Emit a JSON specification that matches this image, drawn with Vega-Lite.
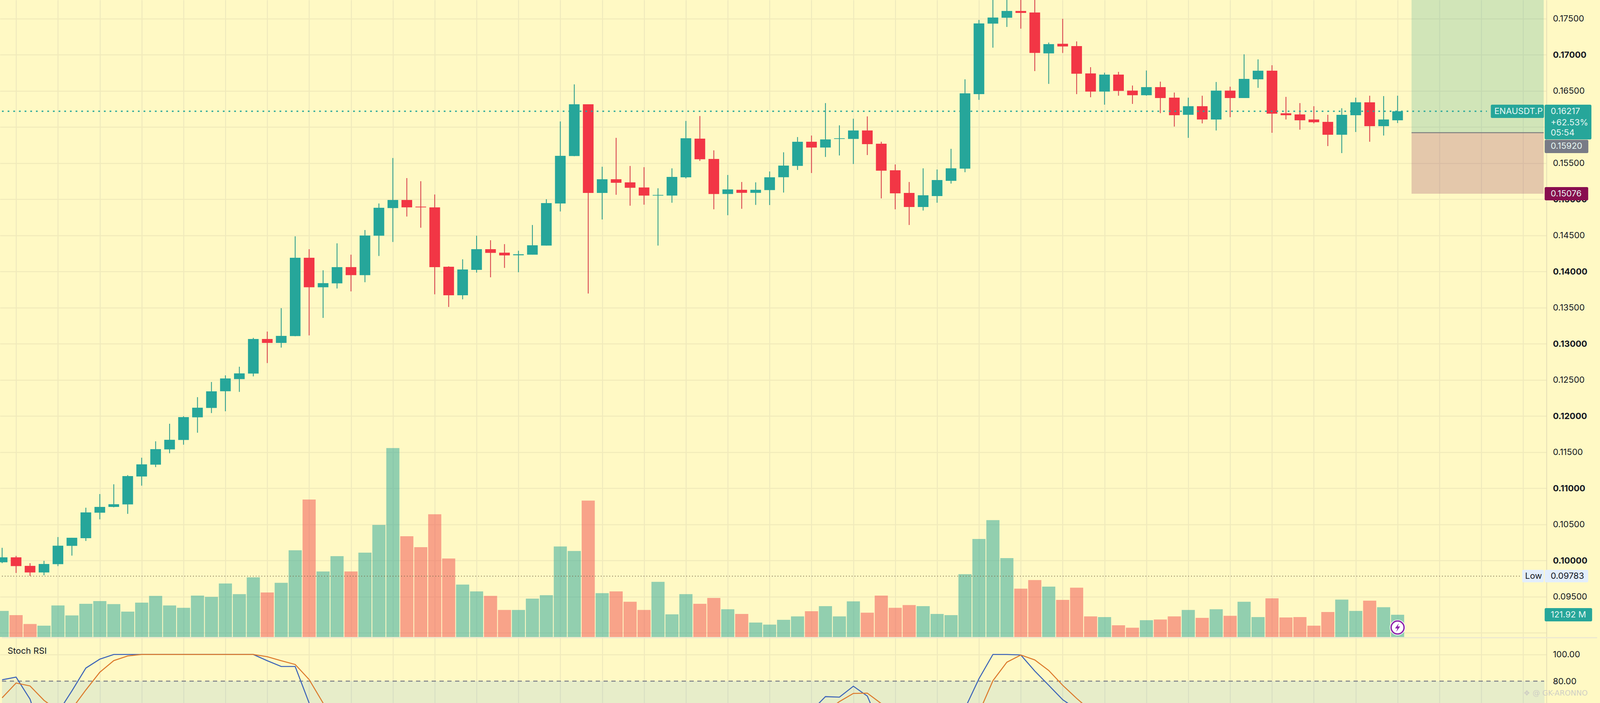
{
  "$schema": "https://vega.github.io/schema/vega-lite/v6.json",
  "width": 4096,
  "height": 1800,
  "padding": 0,
  "autosize": {"type": "fit", "contains": "padding"},
  "background": "#fff9c4",
  "config": {"view": {"stroke": null}, "text": {"font": "Inter"}},
  "datasets": {
    "candles": [
      {"i":0,"open":0.09975,"high":0.10175,"low":0.09962,"close":0.10043,"volume":143,"k":81,"d":67.5},
      {"i":1,"open":0.10043,"high":0.10063,"low":0.09827,"close":0.09922,"volume":120,"k":83,"d":78.6},
      {"i":2,"open":0.09925,"high":0.09962,"low":0.09785,"close":0.09834,"volume":71,"k":66.5,"d":76.4},
      {"i":3,"open":0.09834,"high":0.09995,"low":0.09795,"close":0.09951,"volume":62,"k":35,"d":65.6},
      {"i":4,"open":0.09949,"high":0.10324,"low":0.09922,"close":0.10204,"volume":173,"k":56.4,"d":58},
      {"i":5,"open":0.10202,"high":0.10314,"low":0.10067,"close":0.10314,"volume":118,"k":72.7,"d":59.3},
      {"i":6,"open":0.10308,"high":0.1073,"low":0.1027,"close":0.10665,"volume":182,"k":89.8,"d":73.4},
      {"i":7,"open":0.10661,"high":0.10919,"low":0.10569,"close":0.10741,"volume":197,"k":96.5,"d":86.7},
      {"i":8,"open":0.10741,"high":0.11054,"low":0.10735,"close":0.10778,"volume":180,"k":100,"d":95.4},
      {"i":9,"open":0.10776,"high":0.11181,"low":0.10645,"close":0.11168,"volume":139,"k":100,"d":98.9},
      {"i":10,"open":0.11162,"high":0.11422,"low":0.11035,"close":0.1133,"volume":188,"k":100,"d":100},
      {"i":11,"open":0.11326,"high":0.11649,"low":0.11292,"close":0.11541,"volume":225,"k":100,"d":100},
      {"i":12,"open":0.11537,"high":0.11892,"low":0.11484,"close":0.1167,"volume":173,"k":100,"d":100},
      {"i":13,"open":0.11668,"high":0.11997,"low":0.11602,"close":0.11984,"volume":160,"k":100,"d":100},
      {"i":14,"open":0.11981,"high":0.1226,"low":0.11768,"close":0.12114,"volume":227,"k":100,"d":100},
      {"i":15,"open":0.12111,"high":0.1247,"low":0.1204,"close":0.12341,"volume":220,"k":100,"d":100},
      {"i":16,"open":0.12342,"high":0.12562,"low":0.12065,"close":0.12519,"volume":293,"k":100,"d":100},
      {"i":17,"open":0.1251,"high":0.12681,"low":0.12333,"close":0.12589,"volume":235,"k":100,"d":100},
      {"i":18,"open":0.12586,"high":0.13081,"low":0.12548,"close":0.13065,"volume":327,"k":100,"d":100},
      {"i":19,"open":0.13065,"high":0.13168,"low":0.12732,"close":0.13011,"volume":244,"k":95.3,"d":98.3},
      {"i":20,"open":0.13011,"high":0.13492,"low":0.12946,"close":0.13108,"volume":297,"k":91,"d":95.3},
      {"i":21,"open":0.13105,"high":0.14486,"low":0.13103,"close":0.14189,"volume":475,"k":91,"d":92.5},
      {"i":22,"open":0.14189,"high":0.14308,"low":0.13115,"close":0.13781,"volume":753,"k":63.6,"d":81.2},
      {"i":23,"open":0.13781,"high":0.14016,"low":0.13357,"close":0.13838,"volume":359,"k":30,"d":63.6},
      {"i":24,"open":0.13835,"high":0.14389,"low":0.13764,"close":0.1406,"volume":443,"k":28,"d":45},
      {"i":25,"open":0.1406,"high":0.14232,"low":0.13724,"close":0.13949,"volume":359,"k":22,"d":35},
      {"i":26,"open":0.13949,"high":0.14573,"low":0.13851,"close":0.14497,"volume":462,"k":30,"d":30},
      {"i":27,"open":0.14495,"high":0.14941,"low":0.14214,"close":0.14881,"volume":614,"k":38,"d":32},
      {"i":28,"open":0.14877,"high":0.1557,"low":0.14408,"close":0.14989,"volume":1035,"k":40,"d":36},
      {"i":29,"open":0.14989,"high":0.15292,"low":0.1476,"close":0.14887,"volume":552,"k":33,"d":38},
      {"i":30,"open":0.14897,"high":0.15249,"low":0.14605,"close":0.14887,"volume":492,"k":25,"d":33},
      {"i":31,"open":0.14887,"high":0.15065,"low":0.13684,"close":0.1406,"volume":672,"k":12,"d":24},
      {"i":32,"open":0.14065,"high":0.14071,"low":0.13508,"close":0.1367,"volume":430,"k":8,"d":15},
      {"i":33,"open":0.1367,"high":0.14168,"low":0.13614,"close":0.14027,"volume":287,"k":14,"d":11},
      {"i":34,"open":0.14022,"high":0.14495,"low":0.13984,"close":0.14308,"volume":250,"k":25,"d":16},
      {"i":35,"open":0.14308,"high":0.14432,"low":0.13919,"close":0.14257,"volume":225,"k":35,"d":25},
      {"i":36,"open":0.1426,"high":0.14378,"low":0.14049,"close":0.14222,"volume":148,"k":40,"d":33},
      {"i":37,"open":0.14224,"high":0.14287,"low":0.13989,"close":0.14238,"volume":148,"k":42,"d":39},
      {"i":38,"open":0.14232,"high":0.14643,"low":0.14232,"close":0.14362,"volume":210,"k":50,"d":44},
      {"i":39,"open":0.14358,"high":0.15,"low":0.14358,"close":0.14946,"volume":229,"k":55,"d":49},
      {"i":40,"open":0.14941,"high":0.16076,"low":0.1483,"close":0.156,"volume":496,"k":58,"d":54},
      {"i":41,"open":0.15597,"high":0.16589,"low":0.15595,"close":0.16314,"volume":471,"k":60,"d":57},
      {"i":42,"open":0.16314,"high":0.16314,"low":0.13694,"close":0.15087,"volume":747,"k":42,"d":53},
      {"i":43,"open":0.15087,"high":0.15449,"low":0.14719,"close":0.15276,"volume":240,"k":35,"d":45},
      {"i":44,"open":0.15276,"high":0.15849,"low":0.15061,"close":0.15227,"volume":250,"k":28,"d":35},
      {"i":45,"open":0.15233,"high":0.1546,"low":0.1491,"close":0.15158,"volume":193,"k":20,"d":28},
      {"i":46,"open":0.15162,"high":0.15443,"low":0.14924,"close":0.1505,"volume":148,"k":12,"d":20},
      {"i":47,"open":0.1505,"high":0.15151,"low":0.14358,"close":0.15059,"volume":302,"k":10,"d":14},
      {"i":48,"open":0.1505,"high":0.15427,"low":0.14951,"close":0.15308,"volume":124,"k":15,"d":12},
      {"i":49,"open":0.15303,"high":0.16083,"low":0.15287,"close":0.15843,"volume":235,"k":32,"d":19},
      {"i":50,"open":0.15838,"high":0.16151,"low":0.1553,"close":0.15553,"volume":182,"k":35,"d":27},
      {"i":51,"open":0.15557,"high":0.15676,"low":0.1486,"close":0.15072,"volume":214,"k":28,"d":32},
      {"i":52,"open":0.15072,"high":0.15335,"low":0.14778,"close":0.15135,"volume":152,"k":18,"d":27},
      {"i":53,"open":0.1513,"high":0.15238,"low":0.14867,"close":0.15088,"volume":126,"k":14,"d":20},
      {"i":54,"open":0.15088,"high":0.15233,"low":0.14921,"close":0.1513,"volume":79,"k":16,"d":16},
      {"i":55,"open":0.15126,"high":0.15384,"low":0.14919,"close":0.15303,"volume":68,"k":25,"d":18},
      {"i":56,"open":0.15304,"high":0.15649,"low":0.15092,"close":0.15465,"volume":94,"k":38,"d":26},
      {"i":57,"open":0.15461,"high":0.1586,"low":0.15405,"close":0.15795,"volume":113,"k":48,"d":37},
      {"i":58,"open":0.15795,"high":0.15881,"low":0.15362,"close":0.15715,"volume":141,"k":57.8,"d":48},
      {"i":59,"open":0.15715,"high":0.1633,"low":0.15585,"close":0.15827,"volume":169,"k":68.4,"d":57},
      {"i":60,"open":0.15834,"high":0.16022,"low":0.15605,"close":0.15843,"volume":113,"k":68,"d":64.7},
      {"i":61,"open":0.15834,"high":0.16114,"low":0.15487,"close":0.15951,"volume":195,"k":76.2,"d":70.8},
      {"i":62,"open":0.15951,"high":0.16146,"low":0.15611,"close":0.15762,"volume":133,"k":68.8,"d":71},
      {"i":63,"open":0.15768,"high":0.15795,"low":0.15011,"close":0.15395,"volume":227,"k":44.5,"d":63.2},
      {"i":64,"open":0.154,"high":0.15481,"low":0.1486,"close":0.15081,"volume":160,"k":25,"d":48},
      {"i":65,"open":0.15087,"high":0.15238,"low":0.14643,"close":0.14892,"volume":175,"k":10,"d":27},
      {"i":66,"open":0.14892,"high":0.15427,"low":0.14843,"close":0.15054,"volume":169,"k":8,"d":15},
      {"i":67,"open":0.15043,"high":0.15411,"low":0.14951,"close":0.15265,"volume":126,"k":18,"d":12},
      {"i":68,"open":0.15254,"high":0.15697,"low":0.15216,"close":0.15427,"volume":120,"k":35,"d":20},
      {"i":69,"open":0.15423,"high":0.16659,"low":0.15373,"close":0.16465,"volume":344,"k":59.6,"d":38},
      {"i":70,"open":0.16454,"high":0.17481,"low":0.16375,"close":0.17432,"volume":537,"k":81.8,"d":56.4},
      {"i":71,"open":0.1743,"high":0.178,"low":0.17097,"close":0.17514,"volume":640,"k":100,"d":80.3},
      {"i":72,"open":0.17511,"high":0.1785,"low":0.17384,"close":0.17605,"volume":432,"k":100,"d":94.2},
      {"i":73,"open":0.17605,"high":0.179,"low":0.1736,"close":0.17578,"volume":265,"k":99.6,"d":99.6},
      {"i":74,"open":0.17584,"high":0.179,"low":0.16773,"close":0.17024,"volume":312,"k":87.6,"d":95.9},
      {"i":75,"open":0.17018,"high":0.17168,"low":0.16596,"close":0.17146,"volume":276,"k":76.9,"d":88},
      {"i":76,"open":0.17151,"high":0.17497,"low":0.17024,"close":0.17114,"volume":203,"k":66.1,"d":76.9},
      {"i":77,"open":0.17119,"high":0.17184,"low":0.16454,"close":0.16737,"volume":270,"k":59,"d":67.1},
      {"i":78,"open":0.16741,"high":0.16827,"low":0.16411,"close":0.16489,"volume":113,"k":48,"d":58},
      {"i":79,"open":0.16489,"high":0.16751,"low":0.16308,"close":0.16724,"volume":109,"k":42,"d":50},
      {"i":80,"open":0.16724,"high":0.16762,"low":0.16432,"close":0.16499,"volume":64,"k":36,"d":42},
      {"i":81,"open":0.16503,"high":0.16573,"low":0.16319,"close":0.16439,"volume":51,"k":28,"d":35},
      {"i":82,"open":0.16439,"high":0.16781,"low":0.16432,"close":0.16551,"volume":92,"k":25,"d":30},
      {"i":83,"open":0.16551,"high":0.16627,"low":0.16191,"close":0.164,"volume":96,"k":18,"d":24},
      {"i":84,"open":0.16405,"high":0.16476,"low":0.16005,"close":0.16162,"volume":113,"k":12,"d":18},
      {"i":85,"open":0.16168,"high":0.16405,"low":0.15849,"close":0.16287,"volume":148,"k":14,"d":15},
      {"i":86,"open":0.16287,"high":0.16432,"low":0.16049,"close":0.16103,"volume":105,"k":12,"d":13},
      {"i":87,"open":0.16103,"high":0.16622,"low":0.15951,"close":0.16503,"volume":152,"k":25,"d":17},
      {"i":88,"open":0.16503,"high":0.16557,"low":0.16135,"close":0.164,"volume":116,"k":32,"d":23},
      {"i":89,"open":0.164,"high":0.17005,"low":0.164,"close":0.16665,"volume":193,"k":48,"d":35},
      {"i":90,"open":0.16659,"high":0.16935,"low":0.16541,"close":0.16778,"volume":109,"k":55,"d":45},
      {"i":91,"open":0.16778,"high":0.16854,"low":0.15919,"close":0.16184,"volume":212,"k":42,"d":48},
      {"i":92,"open":0.16189,"high":0.16416,"low":0.16103,"close":0.16162,"volume":107,"k":30,"d":42},
      {"i":93,"open":0.16173,"high":0.1633,"low":0.15962,"close":0.16092,"volume":109,"k":18,"d":30},
      {"i":94,"open":0.16103,"high":0.16287,"low":0.16049,"close":0.16065,"volume":62,"k":10,"d":19},
      {"i":95,"open":0.1607,"high":0.16168,"low":0.15735,"close":0.15892,"volume":137,"k":6,"d":11},
      {"i":96,"open":0.15892,"high":0.16259,"low":0.15638,"close":0.16168,"volume":205,"k":15,"d":10},
      {"i":97,"open":0.16162,"high":0.16405,"low":0.1593,"close":0.16341,"volume":143,"k":26,"d":16},
      {"i":98,"open":0.16341,"high":0.16432,"low":0.15795,"close":0.16011,"volume":199,"k":24,"d":22},
      {"i":99,"open":0.16011,"high":0.16427,"low":0.15881,"close":0.16103,"volume":163,"k":22,"d":24},
      {"i":100,"open":0.16092,"high":0.16432,"low":0.16054,"close":0.16217,"volume":121.92,"k":28,"d":25}
    ]
  },
  "resolve": {"scale": {"y": "independent"}, "axis": {"y": "independent"}},
  "layer": [
    {
      "layer": [
        {
          "data": {"name": "candles"},
          "mark": {"type": "bar", "size": 33.6, "opacity": 0.5, "clip": true},
          "encoding": {
            "x": {
              "field": "i",
              "type": "quantitative",
              "scale": {"domain": [-0.0127, 110.53], "nice": false},
              "axis": {
                "orient": "bottom",
                "title": null,
                "labels": false,
                "ticks": false,
                "domain": false,
                "grid": true,
                "gridColor": "#ebe6bb",
                "gridWidth": 2,
                "minExtent": 0,
                "maxExtent": 0,
                "values": [1,4,7,10,13,16,19,22,25,28,31,34,37,40,43,46,49,52,55,58,61,64,67,70,73,76,79,82,85,88,91,94,97,100,103,106,109]
              }
            },
            "y": {
              "field": "volume",
              "type": "quantitative",
              "scale": {"domain": [-361.5, 3489], "nice": false, "zero": false},
              "axis": null
            },
            "color": {
              "condition": {"test": "datum.close >= datum.open", "value": "#26a69a"},
              "value": "#f14d4e"
            }
          }
        },
        {
          "data": {"values": [{"i": 100, "volume": 52}]},
          "mark": {"type": "point", "filled": true, "shape": "circle", "size": 1600, "color": "#ffffff", "opacity": 1},
          "encoding": {
            "x": {"field": "i", "type": "quantitative", "scale": {"domain": [-0.0127, 110.53], "nice": false}},
            "y": {"field": "volume", "type": "quantitative", "scale": {"domain": [-361.5, 3489], "nice": false, "zero": false}, "axis": null}
          }
        },
        {
          "data": {"values": [{"i": 100, "volume": 52}]},
          "mark": {"type": "point", "filled": false, "shape": "circle", "size": 1100, "stroke": "#8e24aa", "strokeWidth": 3.5, "opacity": 1},
          "encoding": {
            "x": {"field": "i", "type": "quantitative", "scale": {"domain": [-0.0127, 110.53], "nice": false}},
            "y": {"field": "volume", "type": "quantitative", "scale": {"domain": [-361.5, 3489], "nice": false, "zero": false}, "axis": null}
          }
        },
        {
          "data": {"values": [{"i": 100, "volume": 52}]},
          "mark": {"type": "point", "filled": true, "shape": "M0.3,-1 L-0.6,0.2 L-0.05,0.2 L-0.3,1 L0.6,-0.25 L0.05,-0.25 Z", "size": 480, "color": "#8e24aa", "opacity": 1},
          "encoding": {
            "x": {"field": "i", "type": "quantitative", "scale": {"domain": [-0.0127, 110.53], "nice": false}},
            "y": {"field": "volume", "type": "quantitative", "scale": {"domain": [-361.5, 3489], "nice": false, "zero": false}, "axis": null}
          }
        }
      ]
    },
    {
      "layer": [
        {
          "data": {"values": [{"from": -0.0127, "to": 110.53, "top": 80, "bottom": 63.62}]},
          "mark": {"type": "rect", "color": "#2196f3", "opacity": 0.11, "clip": true},
          "encoding": {
            "x": {"field": "from", "type": "quantitative", "scale": {"domain": [-0.0127, 110.53], "nice": false}},
            "x2": {"field": "to"},
            "y": {
              "field": "top",
              "type": "quantitative",
              "scale": {"domain": [63.62, 590.4], "nice": false, "zero": false},
              "axis": {
                "orient": "right",
                "title": null,
                "values": [100, 80],
                "format": ".2f",
                "domain": false,
                "ticks": false,
                "grid": true,
                "gridColor": {"condition": {"test": "datum.value == 100", "value": "#f1eaba"}, "value": "transparent"},
                "gridWidth": 2.5,
                "labelFont": "Inter",
                "labelFontSize": 22,
                "labelColor": "#131722",
                "labelPadding": 15.9,
                "minExtent": 136.6,
                "maxExtent": 136.6
              }
            },
            "y2": {"field": "bottom"}
          }
        },
        {
          "data": {"values": [{"from": -0.0127, "to": 110.5, "level": 80}]},
          "mark": {"type": "rule", "color": "#787b86", "strokeWidth": 2.6, "strokeDash": [11, 9], "clip": true},
          "encoding": {
            "x": {"field": "from", "type": "quantitative", "scale": {"domain": [-0.0127, 110.53], "nice": false}},
            "x2": {"field": "to"},
            "y": {"field": "level", "type": "quantitative", "scale": {"domain": [63.62, 590.4], "nice": false, "zero": false}}
          }
        },
        {
          "data": {"name": "candles"},
          "mark": {"type": "line", "color": "#3c63b8", "strokeWidth": 2.6, "clip": true},
          "encoding": {
            "x": {"field": "i", "type": "quantitative", "scale": {"domain": [-0.0127, 110.53], "nice": false}},
            "y": {"field": "k", "type": "quantitative", "scale": {"domain": [63.62, 590.4], "nice": false, "zero": false}}
          }
        },
        {
          "data": {"name": "candles"},
          "mark": {"type": "line", "color": "#dc7a2c", "strokeWidth": 2.6, "clip": true},
          "encoding": {
            "x": {"field": "i", "type": "quantitative", "scale": {"domain": [-0.0127, 110.53], "nice": false}},
            "y": {"field": "d", "type": "quantitative", "scale": {"domain": [63.62, 590.4], "nice": false, "zero": false}}
          }
        },
        {
          "data": {"values": [{"at": 0.393, "value": 102.6, "label": "Stoch RSI"}]},
          "mark": {"type": "text", "align": "left", "baseline": "middle", "fontSize": 22, "font": "Inter", "color": "#131722"},
          "encoding": {
            "x": {"field": "at", "type": "quantitative", "scale": {"domain": [-0.0127, 110.53], "nice": false}},
            "y": {"field": "value", "type": "quantitative", "scale": {"domain": [63.62, 590.4], "nice": false, "zero": false}},
            "text": {"field": "label"}
          }
        },
        {
          "data": {"values": [{"at": 109.02, "value": 70.9, "label": "❖ @ GK-ARONNO"}]},
          "mark": {"type": "text", "align": "left", "baseline": "middle", "fontSize": 19, "font": "DejaVu Sans", "color": "#cfcfc4"},
          "encoding": {
            "x": {"field": "at", "type": "quantitative", "scale": {"domain": [-0.0127, 110.53], "nice": false}},
            "y": {"field": "value", "type": "quantitative", "scale": {"domain": [63.62, 590.4], "nice": false, "zero": false}},
            "text": {"field": "label"}
          }
        }
      ]
    },
    {
      "layer": [
        {
          "data": {"values": [{"from": 101, "to": 110.47, "top": 0.177568, "bottom": 0.1592}]},
          "mark": {"type": "rect", "color": "#4caf96", "opacity": 0.26, "clip": true},
          "encoding": {
            "x": {"field": "from", "type": "quantitative", "scale": {"domain": [-0.0127, 110.53], "nice": false}},
            "x2": {"field": "to"},
            "y": {
              "field": "top",
              "type": "quantitative",
              "scale": {"domain": [0.080271, 0.177568], "nice": false, "zero": false},
              "axis": {
                "orient": "right",
                "title": null,
                "values": [0.09,0.095,0.1,0.105,0.11,0.115,0.12,0.125,0.13,0.135,0.14,0.145,0.15,0.155,0.16,0.165,0.17,0.175],
                "labelExpr": "datum.value < 0.091 ? '' : format(datum.value, '.5f')",
                "labelOverlap": false,
                "labelBound": false,
                "domain": true,
                "domainColor": "#e3dcb5",
                "domainWidth": 2,
                "ticks": false,
                "grid": true,
                "gridColor": "#f1eaba",
                "gridWidth": 2.5,
                "labelFont": "Inter",
                "labelFontSize": 22,
                "labelColor": "#131722",
                "labelFontWeight": {"condition": {"test": "abs(datum.value * 100 - round(datum.value * 100)) < 0.000001", "value": "bold"}, "value": "normal"},
                "labelPadding": 15.9,
                "minExtent": 136.6,
                "maxExtent": 136.6
              }
            },
            "y2": {"field": "bottom"}
          }
        },
        {
          "data": {"values": [{"from": 101, "to": 110.47, "top": 0.1592, "bottom": 0.15076}]},
          "mark": {"type": "rect", "color": "#973c64", "opacity": 0.26, "clip": true},
          "encoding": {
            "x": {"field": "from", "type": "quantitative", "scale": {"domain": [-0.0127, 110.53], "nice": false}},
            "x2": {"field": "to"},
            "y": {"field": "top", "type": "quantitative", "scale": {"domain": [0.080271, 0.177568], "nice": false, "zero": false}},
            "y2": {"field": "bottom"}
          }
        },
        {
          "data": {"values": [{"from": 101, "to": 110.47, "price": 0.1592}]},
          "mark": {"type": "rule", "color": "#7f7f7f", "strokeWidth": 2.4, "clip": true},
          "encoding": {
            "x": {"field": "from", "type": "quantitative", "scale": {"domain": [-0.0127, 110.53], "nice": false}},
            "x2": {"field": "to"},
            "y": {"field": "price", "type": "quantitative", "scale": {"domain": [0.080271, 0.177568], "nice": false, "zero": false}}
          }
        },
        {
          "data": {"values": [{"from": -0.0127, "to": 108.85, "price": 0.09783}]},
          "mark": {"type": "rule", "color": "#7a6a4a", "strokeWidth": 2, "strokeDash": [2, 5.3], "clip": true},
          "encoding": {
            "x": {"field": "from", "type": "quantitative", "scale": {"domain": [-0.0127, 110.53], "nice": false}},
            "x2": {"field": "to"},
            "y": {"field": "price", "type": "quantitative", "scale": {"domain": [0.080271, 0.177568], "nice": false, "zero": false}}
          }
        },
        {
          "data": {"values": [{"from": -0.0127, "to": 114.3, "price": 0.089314}]},
          "mark": {"type": "rule", "color": "#ece8cf", "strokeWidth": 3},
          "encoding": {
            "x": {"field": "from", "type": "quantitative", "scale": {"domain": [-0.0127, 110.53], "nice": false}},
            "x2": {"field": "to"},
            "y": {"field": "price", "type": "quantitative", "scale": {"domain": [0.080271, 0.177568], "nice": false, "zero": false}}
          }
        },
        {
          "data": {"name": "candles"},
          "mark": {"type": "rule", "strokeWidth": 2.2, "clip": true},
          "encoding": {
            "x": {"field": "i", "type": "quantitative", "scale": {"domain": [-0.0127, 110.53], "nice": false}},
            "y": {"field": "high", "type": "quantitative", "scale": {"domain": [0.080271, 0.177568], "nice": false, "zero": false}},
            "y2": {"field": "low"},
            "color": {
              "condition": {"test": "datum.close >= datum.open", "value": "#2f9e8f"},
              "value": "#d9434e"
            }
          }
        },
        {
          "data": {"name": "candles"},
          "mark": {"type": "bar", "size": 27.3, "clip": true},
          "encoding": {
            "x": {"field": "i", "type": "quantitative", "scale": {"domain": [-0.0127, 110.53], "nice": false}},
            "y": {"field": "open", "type": "quantitative", "scale": {"domain": [0.080271, 0.177568], "nice": false, "zero": false}},
            "y2": {"field": "close"},
            "color": {
              "condition": {"test": "datum.close >= datum.open", "value": "#26a69a"},
              "value": "#f23645"
            }
          }
        },
        {
          "data": {"values": [{"from": -0.0127, "to": 106.4, "price": 0.16217}]},
          "mark": {"type": "rule", "color": "#26a69a", "strokeWidth": 3.2, "strokeDash": [4.5, 10], "clip": true},
          "encoding": {
            "x": {"field": "from", "type": "quantitative", "scale": {"domain": [-0.0127, 110.53], "nice": false}},
            "x2": {"field": "to"},
            "y": {"field": "price", "type": "quantitative", "scale": {"domain": [0.080271, 0.177568], "nice": false, "zero": false}}
          }
        },
        {
          "data": {
            "values": [
              {"kind": "plum", "from": 110.54, "to": 113.66, "top": 0.151676, "bottom": 0.149838},
              {"kind": "gray", "from": 110.54, "to": 113.67, "top": 0.158216, "bottom": 0.156378},
              {"kind": "teal", "from": 110.54, "to": 113.89, "top": 0.163081, "bottom": 0.15827},
              {"kind": "teal", "from": 106.68, "to": 110.49, "top": 0.163081, "bottom": 0.161243},
              {"kind": "pale", "from": 108.93, "to": 110.48, "top": 0.098703, "bottom": 0.096973},
              {"kind": "pale", "from": 110.54, "to": 113.66, "top": 0.098703, "bottom": 0.096973},
              {"kind": "teal", "from": 110.54, "to": 113.94, "top": 0.093405, "bottom": 0.091568}
            ]
          },
          "mark": {"type": "rect", "cornerRadius": 3},
          "encoding": {
            "x": {"field": "from", "type": "quantitative", "scale": {"domain": [-0.0127, 110.53], "nice": false}},
            "x2": {"field": "to"},
            "y": {"field": "top", "type": "quantitative", "scale": {"domain": [0.080271, 0.177568], "nice": false, "zero": false}},
            "y2": {"field": "bottom"},
            "color": {
              "field": "kind",
              "type": "nominal",
              "legend": null,
              "scale": {"domain": ["teal", "gray", "plum", "pale"], "range": ["#26a69a", "#787b86", "#880e4f", "#e3eefc"]}
            }
          }
        },
        {
          "data": {
            "values": [
              {"label": "ENAUSDT.P", "at": 106.93, "price": 0.16217, "kind": "tag"},
              {"label": "0.16217", "at": 110.97, "price": 0.16217, "kind": "tag"},
              {"label": "+62.53%", "at": 110.97, "price": 0.160616, "kind": "tag"},
              {"label": "05:54", "at": 110.97, "price": 0.15919, "kind": "tag"},
              {"label": "0.15920", "at": 110.97, "price": 0.157351, "kind": "tag"},
              {"label": "0.15076", "at": 110.97, "price": 0.15076, "kind": "tag"},
              {"label": "Low", "at": 109.14, "price": 0.09783, "kind": "low"},
              {"label": "0.09783", "at": 110.97, "price": 0.09783, "kind": "low"},
              {"label": "121.92 M", "at": 110.97, "price": 0.092514, "kind": "tag"}
            ]
          },
          "mark": {"type": "text", "align": "left", "baseline": "middle", "fontSize": 22, "font": "Inter"},
          "encoding": {
            "x": {"field": "at", "type": "quantitative", "scale": {"domain": [-0.0127, 110.53], "nice": false}},
            "y": {"field": "price", "type": "quantitative", "scale": {"domain": [0.080271, 0.177568], "nice": false, "zero": false}},
            "text": {"field": "label"},
            "color": {
              "condition": {"test": "datum.kind == 'low'", "value": "#131722"},
              "value": "#e6f6f2"
            }
          }
        }
      ]
    }
  ]
}
